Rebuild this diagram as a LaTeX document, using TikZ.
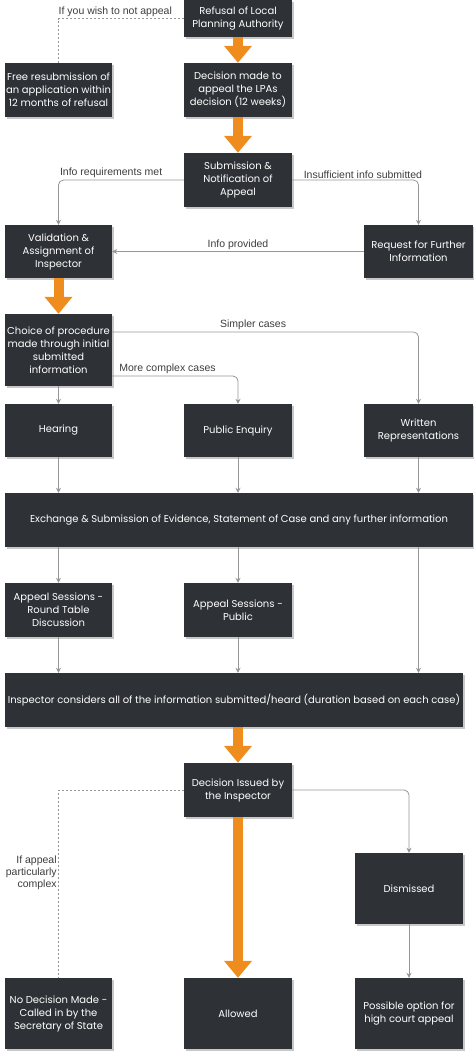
\documentclass[tikz,border=0pt]{standalone}
\usepackage{fontspec}
\setmainfont{Poppins}
\newfontfamily\labelfont{Liberation Sans}
\usepackage{xcolor}
\usepackage{tikz}
\usetikzlibrary{arrows.meta, shadows}
\definecolor{boxdark}{RGB}{46, 49, 54}
\definecolor{shadowgray}{RGB}{200, 200, 200}
\definecolor{linegray}{RGB}{150, 150, 150}
\definecolor{labelgray}{RGB}{60, 60, 60}
\definecolor{floworange}{RGB}{238, 140, 30}

\begin{document}
\begin{tikzpicture}[
    x=1pt, y=-1pt,
    stage/.style={rectangle, fill=boxdark, text=white, align=center, inner sep=1pt,
        font=\fontsize{10}{13}\selectfont, minimum width=108pt, minimum height=54pt,
        drop shadow={shadow xshift=1.5pt, shadow yshift=-1.5pt, fill=shadowgray, opacity=1}},
    link/.style={draw=linegray, line width=0.8pt, rounded corners=5pt, -{Stealth[length=5pt, width=5pt]}},
    optional/.style={draw=linegray, line width=0.7pt, dash pattern=on 2pt off 2pt},
    mainflow/.style={draw=floworange, line width=10pt, -{Triangle[width=27pt, length=17pt]}},
    note/.style={font=\labelfont\fontsize{10.5}{12}\selectfont, text=labelgray, inner sep=1.5pt}
]
    \useasboundingbox (0,0) rectangle (474,1053);

    % Refusal and first decision
    \node[stage, minimum height=37pt] (refusal) at (238, 18.5) {Refusal of Local\\Planning Authority};
    \node[stage] (appeal) at (238, 90) {Decision made to\\appeal the LPAs\\decision (12 weeks)};
    \node[stage, minimum width=107pt] (resubmit) at (58.5, 90) {Free resubmission of\\an application within\\12 months of refusal};

    % Submission and validation
    \node[stage] (notify) at (238, 180) {Submission \&\\Notification of\\Appeal};
    \node[stage, minimum width=107pt, minimum height=53pt] (validate) at (58.5, 251.5) {Validation \&\\Assignment of\\Inspector};
    \node[stage, minimum width=109pt, minimum height=53pt] (request) at (418.5, 251.5) {Request for Further\\Information};

    % Procedure
    \node[stage, minimum width=107pt, minimum height=72pt] (choice) at (58.5, 350) {Choice of procedure\\made through initial\\submitted\\information};
    \node[stage, minimum width=107pt, minimum height=53pt] (hearing) at (58.5, 430.5) {Hearing};
    \node[stage, minimum height=53pt] (enquiry) at (238, 430.5) {Public Enquiry};
    \node[stage, minimum width=109pt, minimum height=53pt] (written) at (418.5, 430.5) {Written\\Representations};

    % Evidence and sessions
    \node[stage, minimum width=468pt] (exchange) at (239, 520) {Exchange \& Submission of Evidence, Statement of Case and any further information};
    \node[stage, minimum width=107pt] (roundtable) at (58.5, 610) {Appeal Sessions -\\Round Table\\Discussion};
    \node[stage] (public) at (238, 610) {Appeal Sessions -\\Public};
    \node[stage, minimum width=458pt] (considers) at (234, 700) {Inspector considers all of the information submitted/heard (duration based on each case)};

    % Outcomes
    \node[stage] (issued) at (238, 790) {Decision Issued by\\the Inspector};
    \node[stage, minimum height=71pt] (dismissed) at (409, 888.5) {Dismissed};
    \node[stage, minimum width=107pt, minimum height=71pt] (calledin) at (58.5, 1013.5) {No Decision Made -\\Called in by the\\Secretary of State};
    \node[stage, minimum height=71pt] (allowed) at (238, 1013.5) {Allowed};
    \node[stage, minimum height=71pt] (highcourt) at (409, 1013.5) {Possible option for\\high court appeal};

    % Main route
    \draw[mainflow] (refusal) -- (appeal);
    \draw[mainflow] (appeal) -- (notify);
    \draw[mainflow] (validate) -- (choice);
    \draw[mainflow] (issued |- considers.south) -- (issued.north);
    \draw[mainflow] (issued) -- (allowed);

    % Side routes
    \draw[optional] (refusal.west) -| node[note, pos=0.04, anchor=south east]{If you wish to not appeal} (resubmit.north);
    \draw[link] (notify.west) -| node[note, pos=0.29, above]{Info requirements met} (validate.north);
    \draw[link] (notify.east) -| node[note, pos=0.28, above]{Insufficient info submitted} (request.north);
    \draw[link] (request.west) -- node[note, above]{Info provided} (validate.east);

    \draw[link] (choice) -- (hearing);
    \draw[link] ([yshift=18pt]choice.east) -| node[note, pos=0.23, above]{Simpler cases} (written.north);
    \draw[link] ([yshift=-26pt]choice.east) -| node[note, pos=0.22, above]{More complex cases} (enquiry.north);

    \foreach \src in {hearing, enquiry, written}
        \draw[link] (\src) -- (\src |- exchange.north);
    \draw[link] (exchange.south -| roundtable) -- (roundtable);
    \draw[link] (exchange.south -| public) -- (public);
    \draw[link] (exchange.south -| written) -- (considers.north -| written);
    \draw[link] (roundtable) -- (roundtable |- considers.north);
    \draw[link] (public) -- (public |- considers.north);

    \draw[optional] (issued.west) -| node[note, pos=0.72, left, align=right]{If appeal\\particularly\\complex} (calledin.north);
    \draw[link] (issued.east) -| (dismissed.north);
    \draw[link] (dismissed) -- (highcourt);

\end{tikzpicture}
\end{document}
